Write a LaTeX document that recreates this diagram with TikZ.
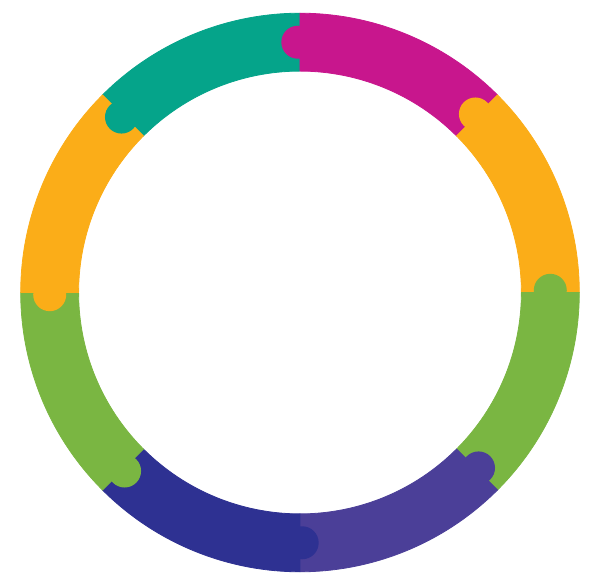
\documentclass[tikz,border=0pt]{standalone}
\usepackage{tikz}
\newcommand{\ROUT}{279.3}
\newcommand{\RIN}{221.4}
\newcommand{\RMID}{250.3}
\newcommand{\RKNOB}{16.5}
\newcommand{\KNOBSHIFT}{0.5}
\newcommand{\SEAMPT}{0.8pt}
\definecolor{myteal}{rgb}{0.02,0.643,0.541}
\definecolor{mymagenta}{rgb}{0.784,0.086,0.553}
\definecolor{myorange}{rgb}{0.984,0.678,0.094}
\definecolor{mygreen}{rgb}{0.478,0.714,0.259}
\definecolor{mypurple}{rgb}{0.294,0.247,0.596}
\definecolor{mydarkblue}{rgb}{0.180,0.192,0.573}

\begin{document}
\begin{tikzpicture}[x=1pt,y=1pt]
	\useasboundingbox (-300,-295.5) rectangle (300,292.5);

		%% ring segments, 45 degrees each
		\foreach \a/\col in {90/myteal,45/mymagenta,0/myorange,-45/mygreen,-90/mypurple,-135/mydarkblue,180/mygreen,135/myorange}
		{
			\filldraw[color=\col,line width=\SEAMPT,line join=miter] (\a:\ROUT) arc[start angle=\a, end angle=\a+45, radius=\ROUT]
				-- (\a+45:\RIN) arc[start angle=\a+45, end angle=\a, radius=\RIN] -- cycle;
		}

		%% knobs at the end of each segment
		\foreach \a/\col in {90/myteal,45/mymagenta,0/myorange,-45/mygreen,-90/mypurple,-135/mydarkblue,180/mygreen,135/myorange}
		{
			\fill[color=\col] (\a+45+\KNOBSHIFT:\RMID) circle[radius=\RKNOB];
		}

	\end{tikzpicture}
\end{document}
